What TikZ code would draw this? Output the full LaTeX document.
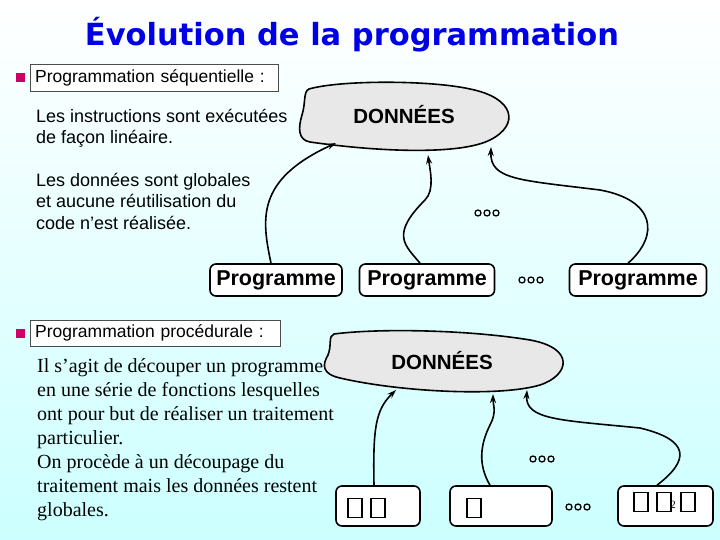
\documentclass[tikz,border=0pt]{standalone}
\usepackage{fontspec}
\setmainfont{Liberation Sans}
\newfontfamily\titlefont{DejaVu Sans}
\newfontfamily\serifont{Liberation Serif}
\usetikzlibrary{arrows.meta}
\definecolor{bgc}{RGB}{204,255,255}
\definecolor{ttl}{RGB}{0,0,230}
\definecolor{bul}{RGB}{204,0,102}
\tikzset{
 x=1pt,y=-1pt,
 hdr/.style={draw=black!70,fill=white,inner sep=5pt,anchor=west,font=\fontsize{17.5}{19}\selectfont,minimum height=26pt,text width=#1,align=left},
 txt/.style={anchor=north west,align=left,font=\fontsize{18}{21.5}\selectfont,inner sep=0pt},
 prog/.style={draw,line width=1.6pt,rounded corners=6pt,fill=white,minimum height=32pt,font=\bfseries\fontsize{21.5}{23}\selectfont},
 dbox/.style={draw,line width=1.6pt,rounded corners=6pt,fill=white,minimum height=40pt},
 blob/.style={draw,line width=1.6pt,fill=black!9},
 link/.style={line width=1.6pt,-{Stealth[length=9pt,width=6pt]}},
 bullet/.style={fill=bul,minimum size=9pt,inner sep=0pt},
 dot/.style={draw,line width=1.3pt,circle,minimum size=6pt,inner sep=0pt},
 sq/.style={draw,line width=1.6pt,minimum width=14pt,minimum height=19pt,inner sep=0pt},
 dn/.style={font=\bfseries\fontsize{20.5}{22}\selectfont},
}
\begin{document}
\begin{tikzpicture}
\useasboundingbox (0,0) rectangle (720,540);
\shade[top color=white,bottom color=bgc] (0,0) rectangle (720,540);
\node[text=ttl,font=\titlefont\bfseries\fontsize{30.5}{34}\selectfont] (title) at (352,35) {Évolution de la programmation};
% Part 1
\node[bullet] (b1) at (20,78) {};
\node[hdr=238pt] (h1) at (30,77.5) {Programmation séquentielle :};
\node[txt] (t1) at (36,109) {Les instructions sont exécutées\\de façon linéaire.};
\node[txt] (t2) at (36,173) {Les données sont globales\\et aucune réutilisation du\\code n’est réalisée.};
\draw[blob] (309,89) .. controls (340,80) and (430,80) .. (470,89)
  .. controls (515,98) and (520,125) .. (490,140)
  .. controls (460,155) and (380,152) .. (310,142)
  .. controls (298,140) and (298,128) .. (302,115)
  .. controls (306,102) and (303,92) .. (309,89) -- cycle;
\node[dn] (d1) at (404,115) {DONNÉES};
\coordinate (e1a) at (336,143);
\coordinate (e1b) at (428,155);
\coordinate (e1c) at (491,147);
\node[prog,minimum width=132pt] (p1) at (276,280) {Programme};
\node[prog,minimum width=135pt] (p2) at (427,280) {Programme};
\node[prog,minimum width=137pt] (p3) at (638,280) {Programme};
\foreach \n/\x/\y in {a/478/213,b/487/213,c/496/213,d/522/280,e/531/280,f/540/280}
  \node[dot] (o\n) at (\x,\y) {};
\draw[link] (p1.north -| 271,0) .. controls (262,220) and (255,180) .. (e1a);
\draw[link] (p2.north -| 420,0) .. controls (405,245) and (390,235) .. (425,200) .. controls (435,190) and (430,170) .. (e1b);
\draw[link] (p3.north -| 628,0) .. controls (660,235) and (655,200) .. (600,190) .. controls (520,180) and (490,180) .. (e1c);
% Part 2
\node[bullet] (b2) at (20,333) {};
\node[hdr=240pt] (h2) at (30,333) {Programmation procédurale :};
\node[txt,font=\serifont\fontsize{20}{24}\selectfont] (t3) at (37,358)
 {Il s’agit de découper un programme\\en une série de fonctions lesquelles\\ont pour but de réaliser un traitement\\particulier.\\On procède à un découpage du\\traitement mais les données restent\\globales.};
\draw[blob] (334,334) .. controls (380,328) and (470,330) .. (530,340)
  .. controls (575,348) and (570,375) .. (540,385)
  .. controls (500,397) and (400,392) .. (340,378)
  .. controls (322,374) and (322,365) .. (328,355)
  .. controls (332,345) and (328,336) .. (334,334) -- cycle;
\node[dn] (d2) at (442,361) {DONNÉES};
\coordinate (e2a) at (396,390);
\coordinate (e2b) at (493,394);
\coordinate (e2c) at (527,390);
\node[dbox,minimum width=84pt] (q1) at (378,506) {};
\node[dbox,minimum width=102pt] (q2) at (501,506) {};
\node[dbox,minimum width=95pt] (q3) at (665.5,506) {};
\node[sq] (s1) at (355,508) {};
\node[sq] (s2) at (378,508) {};
\node[sq] (s3) at (474,508) {};
\node[sq] (s4) at (641,502) {};
\node[sq] (s5) at (664,502) {};
\node[sq] (s6) at (688,502) {};
\node[font=\serifont\fontsize{11}{12}\selectfont,inner sep=0pt] (pg) at (673,505) {2};
\foreach \n/\x/\y in {g/533/459,h/542/459,i/551/459,j/569/507,k/578/507,l/587/507}
  \node[dot] (o\n) at (\x,\y) {};
\draw[link] (q1.north -| 374,0) .. controls (373,430) and (375,410) .. (e2a);
\draw[link] (q2.north -| 490,0) .. controls (478,465) and (480,445) .. (490,425) .. controls (497,412) and (493,405) .. (e2b);
\draw[link] (q3.north -| 657,0) .. controls (690,460) and (690,440) .. (640,428) .. controls (560,420) and (525,420) .. (e2c);
\end{tikzpicture}
\end{document}
